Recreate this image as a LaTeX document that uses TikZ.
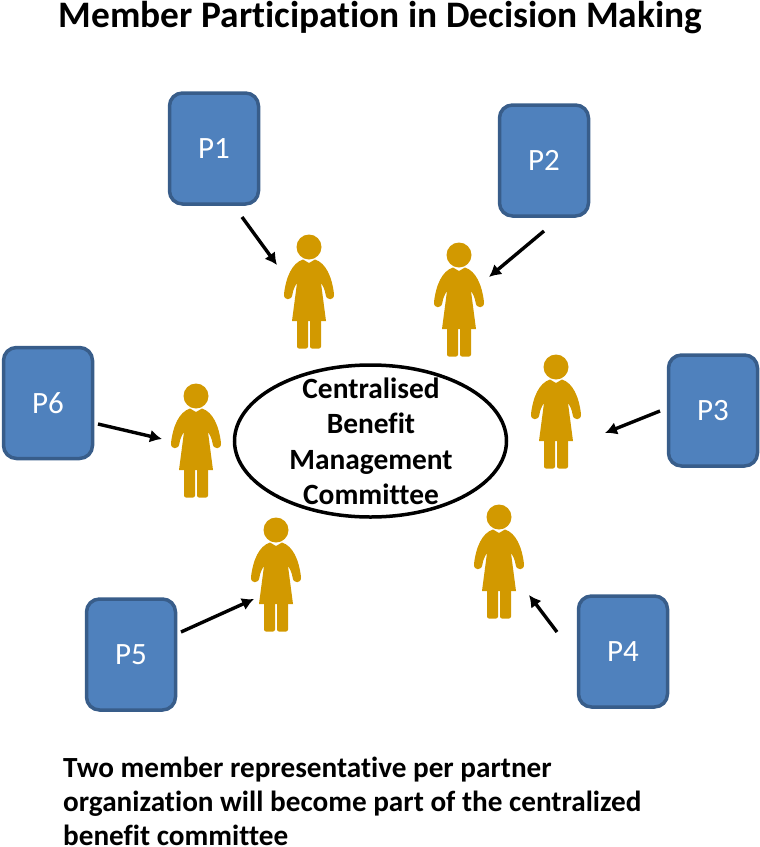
\documentclass[tikz,border=0pt]{standalone}
\usepackage{fontspec}
\setmainfont{Carlito}[Ligatures=NoCommon]
\usepackage{xcolor}
\usetikzlibrary{positioning,shapes.geometric,arrows.meta}
\definecolor{boxblue}{HTML}{4F81BD}
\definecolor{boxedge}{HTML}{385D8A}
\definecolor{persongold}{HTML}{D29900}
\tikzset{
	partner/.style={draw=boxedge,fill=boxblue,line width=3.5pt,rounded corners=13pt,minimum width=89pt,minimum height=111pt,text=white,font=\fontsize{31}{33}\selectfont},
	toperson/.style={-{Latex[length=12pt,width=13pt]},line width=3.4pt,black},
	person/.pic={
		\fill[persongold] (0,0) circle (12.5);
		% body with sleeves
		\fill[persongold] (0,16) -- (-6,12.5) .. controls (-17,16) and (-23,30) .. (-25,47) .. controls (-25.5,54) and (-17,54) .. (-16.5,47) .. controls (-16,43) and (-14,39) .. (-12,36) -- (-17,74) -- (17,74) -- (12,36) .. controls (14,39) and (16,43) .. (16.5,47) .. controls (17,54) and (25.5,54) .. (25,47) .. controls (23,30) and (17,16) .. (6,12.5) -- cycle;
		\fill[persongold,rounded corners=2pt] (-12,70) rectangle (-1,101.5);
		\fill[persongold,rounded corners=2pt] (1,70) rectangle (12,101.5);
	}
}
\begin{document}
\begin{tikzpicture}[x=1pt,y=-1pt]
	\useasboundingbox (0,0) rectangle (760,847);
	\node (title) at (380.5,18) {\fontsize{37.4}{40}\selectfont\bfseries Member Participation in Decision Making};
	% committee in the middle
	\node[draw,line width=3.5pt,ellipse,minimum width=272pt,minimum height=152pt,inner sep=0pt] (committee) at (370.5,441) {};
	\node[align=center,font=\fontsize{29.4}{35.5}\selectfont\bfseries] (committeetext) at (371,441.5) {Centralised\\Benefit\\Management\\Committee};
	% partner boxes
	\node[partner] (P1) at (214,148.5) {P1};
	\node[partner] (P2) at (544,160.5) {P2};
	\node[partner] (P3) at (713,410.5) {P3};
	\node[partner] (P4) at (623,651.5) {P4};
	\node[partner] (P5) at (131,654.5) {P5};
	\node[partner] (P6) at (48,403) {P6};
	% members
	\pic at (309,247) {person};
	\pic at (459,255) {person};
	\pic at (556,367) {person};
	\pic at (499,517) {person};
	\pic at (276,530) {person};
	\pic at (196,396) {person};
	% arrows
	\foreach \name/\xa/\ya/\xb/\yb in {one/242/217/277/265,two/544/231/489/277,three/660/411/605/433,four/557/632/529/595,five/181/632/254/599,six/98/424/162/439}{
		\coordinate (\name from) at (\xa,\ya);
		\coordinate (\name to) at (\xb,\yb);
		\draw[toperson] (\name from) -- (\name to);
	}
	\node[anchor=north west,align=left,inner sep=0pt,font=\fontsize{29.2}{34}\selectfont\bfseries] (note) at (63,757) {Two member representative per partner\\organization will become part of the centralized\\benefit committee};
\end{tikzpicture}
\end{document}
